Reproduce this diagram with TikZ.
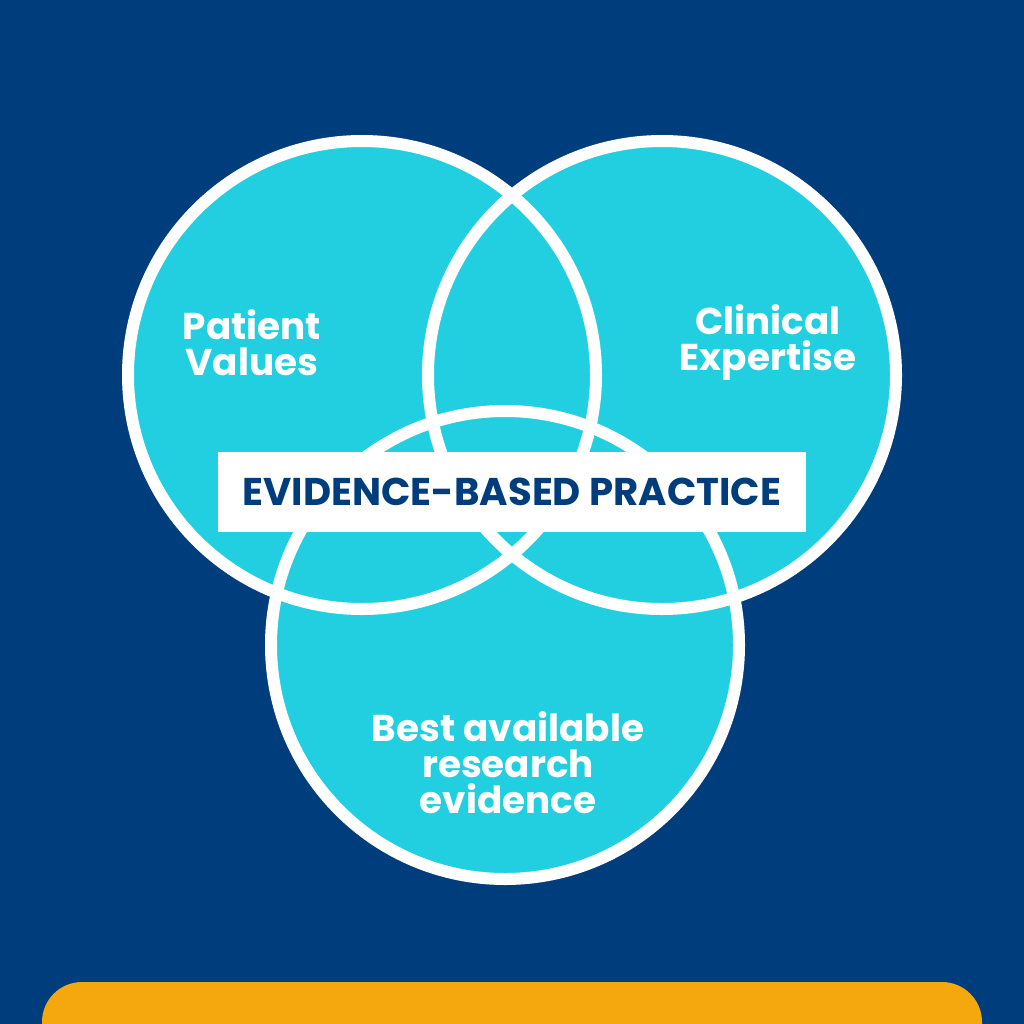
\documentclass[tikz,border=0pt]{standalone}
\usepackage{fontspec}
\setmainfont{Poppins}
\definecolor{navy}{HTML}{003D7C}
\definecolor{cyanf}{HTML}{22CFE0}
\definecolor{gold}{HTML}{F5A80E}
\begin{document}
\begin{tikzpicture}[x=0.75pt,y=-0.75pt,
  circ/.style={fill=cyanf},
  ring/.style={draw=white,line width=9pt},
  lab/.style={text=white,font=\bfseries\fontsize{28}{27}\selectfont,align=center}]
\fill[navy] (0,0) rectangle (1024,1024);
\useasboundingbox (0,0) rectangle (1024,1024);
\fill[gold,rounded corners=30pt] (42,982) rectangle (982,1080);
\fill[circ] (362,375) circle (234);
\fill[circ] (662,375) circle (234);
\fill[circ] (505,645) circle (234);
\draw[ring] (362,375) circle (234);
\draw[ring] (662,375) circle (234);
\draw[ring] (505,645) circle (234);
\node[fill=white,minimum width=441pt,minimum height=60pt,inner sep=0pt,text=navy,
  font=\bfseries\fontsize{29}{27}\selectfont] (ebp) at (512,492) {EVIDENCE-BASED PRACTICE};
\node[lab] (pv) at (252,343) {Patient\\Values};
\node[lab] (ce) at (768,343) {Clinical\\Expertise};
\node[lab] (br) at (508,763) {Best available\\research\\evidence};
\end{tikzpicture}
\end{document}
